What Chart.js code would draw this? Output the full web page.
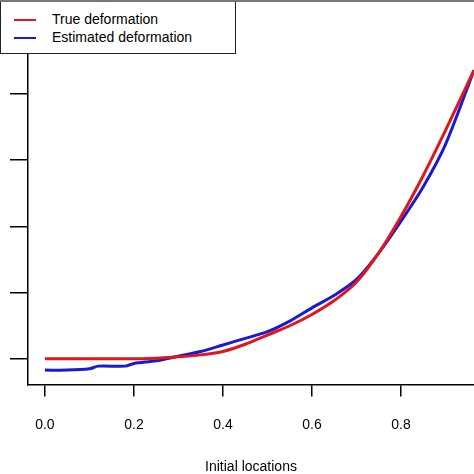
<!DOCTYPE html>
<html>
<head>
<script src="https://cdn.jsdelivr.net/npm/chart.js@4"></script>
<style>
  body { margin: 0; background: #fff; }
  #wrap { position: relative; width: 474px; height: 474px; overflow: hidden; border-top: 2px solid #777; box-sizing: border-box; }
  #legend { position: absolute; left: 0; top: -2px; width: 236px; height: 54px; border: 1px solid #222; box-sizing: border-box;
    font: 14px "Liberation Sans", Arial, sans-serif; background: #fff; }
  .item { position: absolute; left: 13px; }
  .item span { display: inline-block; width: 22px; height: 2px; vertical-align: middle; margin-right: 16px; }
</style>
</head>
<body>
<div id="wrap">
  <canvas id="chart"></canvas>
  <div id="legend">
    <div class="item" style="top:10px"><span style="background:#e0161b"></span>True deformation</div>
    <div class="item" style="top:28px"><span style="background:#1a1ad0"></span>Estimated deformation</div>
  </div>
</div>
<script>
const xs = [0, 0.05, 0.1, 0.12, 0.18, 0.2, 0.25, 0.3, 0.35, 0.4, 0.45, 0.5, 0.55, 0.6, 0.65, 0.7, 0.75, 0.8, 0.85, 0.9, 0.964];
const trueDef = [0, 0, 0, 0, 0, 0, 0.01, 0.03, 0.06, 0.11, 0.22, 0.36, 0.5, 0.67, 0.88, 1.16, 1.6, 2.15, 2.77, 3.45, 4.36];
const estDef = [-0.17, -0.17, -0.15, -0.11, -0.11, -0.07, -0.03, 0.04, 0.11, 0.21, 0.31, 0.41, 0.57, 0.77, 0.96, 1.2, 1.6, 2.08, 2.6, 3.24, 4.36];
const xTicks = [0, 0.2, 0.4, 0.6, 0.8];
const yTicks = [0, 1, 2, 3, 4, 5];

const pts = arr => xs.map((x, i) => ({ x: x, y: arr[i] }));

const canvas = document.getElementById("chart");
canvas.width = 474; canvas.height = 478;
canvas.style.width = "474px"; canvas.style.height = "478px";

new Chart(canvas.getContext("2d"), {
  type: "line",
  data: {
    datasets: [
      { label: "True deformation", data: pts(trueDef), borderColor: "#e0161b", borderWidth: 3, pointRadius: 0, cubicInterpolationMode: "monotone" },
      { label: "Estimated deformation", data: pts(estDef), borderColor: "#1a1ad0", borderWidth: 3, pointRadius: 0, tension: 0.3 }
    ]
  },
  options: {
    responsive: false,
    animation: false,
    layout: { padding: { left: 10, top: -2, right: 0, bottom: 0 } },
    plugins: { legend: { display: false }, tooltip: { enabled: false } },
    scales: {
      x: {
        type: "linear", min: -0.038, max: 0.964,
        afterBuildTicks: s => { s.ticks = xTicks.map(v => ({ value: v })); },
        border: { color: "#000", width: 1.5 },
        grid: { drawOnChartArea: false, color: "#000", lineWidth: 1.5, tickLength: 12 },
        ticks: { color: "#000", padding: 20, font: { family: "Liberation Sans", size: 14 }, callback: v => v.toFixed(1) },
        title: { display: true, text: "Initial locations", color: "#000", font: { family: "Liberation Sans", size: 14 }, padding: { top: 6, bottom: 4 } }
      },
      y: {
        min: -0.386, max: 5.39,
        afterBuildTicks: s => { s.ticks = yTicks.map(v => ({ value: v })); },
        border: { color: "#000", width: 1.5 },
        grid: { drawOnChartArea: false, color: "#000", lineWidth: 1.5, tickLength: 18 },
        ticks: { display: false }
      }
    }
  }
});
</script>
</body>
</html>
